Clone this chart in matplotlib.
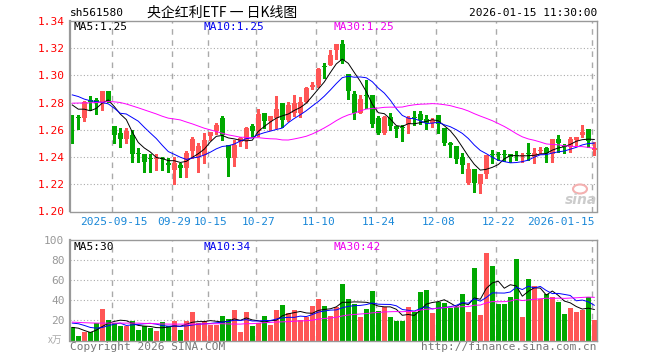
import numpy as np
import pandas as pd
import matplotlib
matplotlib.use("Agg")
import matplotlib.pyplot as plt
from matplotlib.patches import Ellipse

# 88 trading days, 2025-09-04 .. 2026-01-15
opens = [1.2694, 1.2689, 1.2690, 1.2820, 1.2820, 1.2808, 1.2886, 1.2629, 1.2578, 1.2534,
         1.2560, 1.2425, 1.2423, 1.2392, 1.2386, 1.2394, 1.2360, 1.2306, 1.2343, 1.2323,
         1.2448, 1.2404, 1.2416, 1.2556, 1.2595, 1.2685, 1.2490, 1.2392, 1.2514, 1.2526,
         1.2632, 1.2588, 1.2722, 1.2668, 1.2686, 1.2796, 1.2673, 1.2722, 1.2727, 1.2803,
         1.2918, 1.2930, 1.3065, 1.3075, 1.3188, 1.3232, 1.3011, 1.2864, 1.2727, 1.2852,
         1.2857, 1.2690, 1.2580, 1.2693, 1.2629, 1.2613, 1.2644, 1.2690, 1.2717, 1.2678,
         1.2648, 1.2707, 1.2611, 1.2506, 1.2481, 1.2398, 1.2207, 1.2310, 1.2202, 1.2273,
         1.2416, 1.2416, 1.2417, 1.2423, 1.2410, 1.2406, 1.2424, 1.2398, 1.2445, 1.2464,
         1.2423, 1.2530, 1.2478, 1.2477, 1.2525, 1.2562, 1.2604, 1.2452]
highs = [1.2712, 1.2710, 1.2815, 1.2852, 1.2832, 1.2886, 1.2886, 1.2629, 1.2612, 1.2612,
         1.2600, 1.2465, 1.2423, 1.2426, 1.2426, 1.2399, 1.2392, 1.2404, 1.2360, 1.2441,
         1.2551, 1.2502, 1.2575, 1.2587, 1.2649, 1.2702, 1.2490, 1.2526, 1.2551, 1.2624,
         1.2642, 1.2753, 1.2722, 1.2703, 1.2850, 1.2796, 1.2808, 1.2857, 1.2845, 1.2918,
         1.2955, 1.3053, 1.3090, 1.3188, 1.3232, 1.3261, 1.3011, 1.2882, 1.2857, 1.2967,
         1.2857, 1.2703, 1.2703, 1.2722, 1.2629, 1.2634, 1.2703, 1.2737, 1.2737, 1.2707,
         1.2690, 1.2707, 1.2611, 1.2510, 1.2481, 1.2428, 1.2359, 1.2310, 1.2276, 1.2415,
         1.2451, 1.2440, 1.2451, 1.2423, 1.2447, 1.2428, 1.2501, 1.2464, 1.2477, 1.2477,
         1.2530, 1.2562, 1.2496, 1.2550, 1.2550, 1.2636, 1.2604, 1.2513]
lows = [1.2507, 1.2607, 1.2668, 1.2747, 1.2715, 1.2747, 1.2803, 1.2504, 1.2473, 1.2502,
        1.2362, 1.2362, 1.2289, 1.2289, 1.2306, 1.2302, 1.2289, 1.2203, 1.2252, 1.2252,
        1.2392, 1.2289, 1.2355, 1.2526, 1.2571, 1.2526, 1.2262, 1.2331, 1.2478, 1.2470,
        1.2546, 1.2556, 1.2612, 1.2600, 1.2617, 1.2619, 1.2668, 1.2703, 1.2698, 1.2803,
        1.2899, 1.2918, 1.2984, 1.3075, 1.3119, 1.3095, 1.2828, 1.2681, 1.2722, 1.2759,
        1.2624, 1.2568, 1.2568, 1.2600, 1.2546, 1.2521, 1.2580, 1.2639, 1.2641, 1.2604,
        1.2624, 1.2580, 1.2489, 1.2398, 1.2354, 1.2286, 1.2200, 1.2146, 1.2139, 1.2249,
        1.2354, 1.2379, 1.2374, 1.2367, 1.2379, 1.2367, 1.2379, 1.2359, 1.2428, 1.2367,
        1.2367, 1.2440, 1.2428, 1.2440, 1.2489, 1.2550, 1.2477, 1.2415]
closes = [1.2691, 1.2686, 1.2808, 1.2808, 1.2796, 1.2886, 1.2803, 1.2563, 1.2534, 1.2592,
          1.2426, 1.2421, 1.2362, 1.2387, 1.2389, 1.2387, 1.2343, 1.2360, 1.2323, 1.2429,
          1.2531, 1.2482, 1.2526, 1.2587, 1.2636, 1.2563, 1.2392, 1.2490, 1.2538, 1.2612,
          1.2588, 1.2717, 1.2668, 1.2703, 1.2754, 1.2673, 1.2784, 1.2801, 1.2808, 1.2911,
          1.2933, 1.3046, 1.3062, 1.3151, 1.3232, 1.3109, 1.2889, 1.2727, 1.2828, 1.2850,
          1.2644, 1.2580, 1.2693, 1.2632, 1.2607, 1.2611, 1.2685, 1.2688, 1.2673, 1.2653,
          1.2673, 1.2646, 1.2506, 1.2489, 1.2386, 1.2342, 1.2310, 1.2207, 1.2276, 1.2415,
          1.2414, 1.2414, 1.2414, 1.2398, 1.2408, 1.2408, 1.2422, 1.2428, 1.2447, 1.2428,
          1.2530, 1.2501, 1.2476, 1.2530, 1.2545, 1.2587, 1.2521, 1.2464]
volumes = [13.3, 4.7, 8, 8, 17.3, 31.7, 20.7, 17.3, 14, 14.7,
           19, 10, 14, 12.3, 9, 18, 14, 19, 10.7, 19,
           28, 17.3, 19, 15.7, 15.7, 24, 21.7, 30.7, 8, 28,
           14, 17.3, 24, 15, 30.7, 35.7, 27.3, 30, 20.7, 23.3,
           34, 41.7, 34.7, 24, 33, 56.7, 41.7, 36.7, 23.3, 31.7,
           49.7, 29.7, 33, 23.3, 19.7, 19.7, 33.7, 28.3, 48.7, 50.7,
           27.7, 38, 37.7, 32.3, 33, 46.7, 28, 71.7, 25.7, 87,
           74, 36.7, 36.7, 43, 81, 23, 60.7, 54.7, 41.3, 46.3,
           43.3, 38.7, 26.7, 32.3, 28, 30.7, 43.3, 20]

tick_pos = [7, 17, 23, 31, 41, 51, 61, 71, 87]
tick_labels = ["2025-09-15", "09-29", "10-15", "10-27", "11-10",
               "11-24", "12-08", "12-22", "2026-01-15"]

# MA values at the start, where the history lies before the window
ma5_head = [1.2783, 1.2752, 1.2752, 1.2740]
ma10_head = [1.2857, 1.2845, 1.2826, 1.2814, 1.2808, 1.2801, 1.2791, 1.2759, 1.2722]
ma30_head = [1.2796, 1.2797, 1.2798, 1.2799, 1.2801, 1.2804, 1.2808, 1.2806, 1.2801, 1.2790,
             1.2776, 1.2762, 1.2747, 1.2732, 1.2717, 1.2700, 1.2686, 1.2680, 1.2673, 1.2658,
             1.2644, 1.2628, 1.2612, 1.2600, 1.2588, 1.2575, 1.2563, 1.2555, 1.2546]
vol_ma5_head = [13.0, 12.3, 10.0, 8.0]
vol_ma10_head = [17.3, 16.7, 15.0, 13.0, 12.3, 13.0, 14.7, 16.3, 17.3]
vol_ma30_head = [18.3, 18.0, 17.7, 17.5, 17.3, 17.3, 17.3, 17.3, 17.3, 17.3,
                 17.3, 17.3, 17.0, 17.0, 16.7, 16.5, 16.3, 16.3, 16.3, 16.3,
                 16.3, 16.3, 16.5, 16.7, 16.7, 16.7, 16.5, 16.3, 16.3]

RED = "#ff5555"
GREEN = "#00a800"
GRID = "#aaaaaa"
MONO = "DejaVu Sans Mono"
W, H = 660, 360


def moving_avg(values, n, head):
    s = pd.Series(values).rolling(n).mean().to_numpy()
    s[:len(head)] = head
    return s


def px(x, y):
    return x / W, 1 - y / H


x = np.arange(len(closes))
o = np.array(opens)
c = np.array(closes)
up = c >= o
colors = np.where(up, RED, GREEN)

fig = plt.figure(figsize=(6.6, 3.6), dpi=100)
fig.patch.set_facecolor("white")

ax = fig.add_axes([70 / W, 1 - 211.5 / H, 527 / W, 190.5 / H])
axv = fig.add_axes([70 / W, 1 - 340.5 / H, 527 / W, 100.5 / H])

for a in (ax, axv):
    a.set_xlim(-0.38, 87.45)
    for sp in a.spines.values():
        sp.set_color("#999999")
        sp.set_linewidth(1.0)
    a.spines["left"].set_linewidth(1.6)
    a.tick_params(length=0, pad=4)
    for p in tick_pos:
        a.axvline(p - 0.35, color=GRID, lw=1.0, ls=(0, (4, 4)), zorder=0)

# price panel
ax.set_ylim(1.20, 1.34)
ax.set_yticks(np.arange(1.20, 1.341, 0.02))
ax.set_yticklabels([f"{v:.2f}" for v in np.arange(1.20, 1.341, 0.02)],
                   color="red", family=MONO, fontsize=8)
for v in np.arange(1.22, 1.33, 0.02):
    ax.axhline(v, color=GRID, lw=0.8, ls=(0, (1, 2)), zorder=0)
ax.set_xticks(tick_pos)
ax.set_xticklabels(tick_labels, color="#1a88d8", family=MONO, fontsize=8)
ax.get_xticklabels()[-1].set_ha("right")
ax.get_xticklabels()[-1].set_x(87.0)

ax.vlines(x, lows, highs, colors=colors, lw=0.75, zorder=2, antialiased=False)
body = np.maximum(np.abs(c - o), 0.0007)
ax.bar(x, body, bottom=np.minimum(o, c), width=0.75, color=colors, zorder=3,
       antialiased=False)

ma_style = dict(lw=0.7, zorder=4)
ax.plot(x, moving_avg(closes, 5, ma5_head), color="black", **ma_style)
ax.plot(x, moving_avg(closes, 10, ma10_head), color="#0000ff", **ma_style)
ax.plot(x, moving_avg(closes, 30, ma30_head), color="#ff00ff", **ma_style)

# volume panel
axv.set_ylim(0, 100)
axv.set_yticks([20, 40, 60, 80, 100])
axv.set_yticklabels(["20", "40", "60", "80", "100"], color="#999999", family=MONO, fontsize=8)
axv.set_xticks([])
for v in [20, 40, 60, 80]:
    axv.axhline(v, color=GRID, lw=0.8, ls=(0, (1, 2)), zorder=0)
axv.bar(x, volumes, width=0.83, color=colors, zorder=2, antialiased=False)
axv.plot(x, moving_avg(volumes, 5, vol_ma5_head), color="black", **ma_style)
axv.plot(x, moving_avg(volumes, 10, vol_ma10_head), color="#0000ff", **ma_style)
axv.plot(x, moving_avg(volumes, 30, vol_ma30_head), color="#ff00ff", **ma_style)

# texts
fs = 8
fig.text(*px(70, 13), "sh561580", family=MONO, fontsize=fs, va="center")
fig.text(*px(222, 13), "央企红利ETF 一 日K线图", family=["Noto Sans CJK SC", "DejaVu Sans"],
         fontsize=10, ha="center", va="center")
fig.text(*px(597, 13), "2026-01-15 11:30:00", family=MONO, fontsize=fs, ha="right", va="center")

fig.text(*px(74, 27), "MA5:1.25", family=MONO, fontsize=fs, va="center", color="black")
fig.text(*px(204, 27), "MA10:1.25", family=MONO, fontsize=fs, va="center", color="#0000ee")
fig.text(*px(334, 27), "MA30:1.25", family=MONO, fontsize=fs, va="center", color="#ee00ee")
fig.text(*px(74, 247), "MA5:30", family=MONO, fontsize=fs, va="center", color="black")
fig.text(*px(204, 247), "MA10:34", family=MONO, fontsize=fs, va="center", color="#0000ee")
fig.text(*px(334, 247), "MA30:42", family=MONO, fontsize=fs, va="center", color="#ee00ee")

fig.text(*px(48, 340), "x万", family=["Noto Sans CJK SC", "DejaVu Sans"], fontsize=7,
         color="#aaaaaa", va="center")
fig.text(*px(70, 347), "Copyright 2026 SINA.COM", family=MONO, fontsize=fs,
         color="#777777", va="center")
fig.text(*px(597, 347), "http://finance.sina.com.cn", family=MONO, fontsize=fs,
         color="#777777", va="center", ha="right")

# sina watermark
fig.text(*px(581, 200), "sina", fontsize=10, fontweight="bold", style="italic",
         color="#cccccc", ha="center", va="center")
fig.patches.append(Ellipse(px(580, 189), 14 / W, 9 / H, transform=fig.transFigure,
                           fill=False, ec="#f4b0b0", lw=1.5))

fig.savefig("out.png", dpi=100, facecolor="white")
